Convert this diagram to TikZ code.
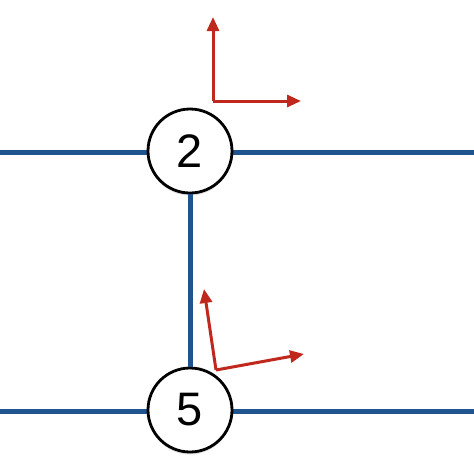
\documentclass[tikz,border=0pt]{standalone}
\usepackage{fontspec}
\setmainfont{Liberation Sans}
\usetikzlibrary{arrows.meta,shadows}
\definecolor{linkblue}{RGB}{31,84,143}
\definecolor{framered}{RGB}{192,40,30}
\begin{document}
\begin{tikzpicture}
            [x=1pt, y=-1pt,
            joint/.style={circle, draw, fill=white, line width=2.8pt, minimum size=84pt, inner sep=0pt,
                font=\fontsize{47}{47}\selectfont,
                drop shadow={shadow xshift=0pt, shadow yshift=-2.5pt, opacity=0.25}},
            link/.style={linkblue, line width=5pt},
            axis/.style={framered, line width=3pt, -{Triangle[length=14pt, width=12pt]}}]

            \useasboundingbox (0,0) rectangle (474,474);

            \coordinate (l2) at (0,152);
            \coordinate (r2) at (474,152);
            \coordinate (l5) at (0,411);
            \coordinate (r5) at (474,411);

            \draw[link] (l2) -- (190,152);
            \draw[link] (190,152) -- (r2);
            \draw[link] (l5) -- (190,411);
            \draw[link] (190,411) -- (r5);

            \node[joint] (j2) at (190,151) {2};
            \node[joint] (j5) at (190,410) {5};

            \draw[link] (j2) -- (j5);

            % frames
            \coordinate (o2) at (213,101);
            \coordinate (y2) at (213,17);
            \coordinate (x2) at (301,101);
            \draw[axis] (o2) -- (y2);
            \draw[axis] (o2) -- (x2);

            \coordinate (o5) at (216,370);
            \coordinate (y5) at (204,289);
            \coordinate (x5) at (304,354);
            \draw[axis] (o5) -- (y5);
            \draw[axis] (o5) -- (x5);

        \end{tikzpicture}
\end{document}
